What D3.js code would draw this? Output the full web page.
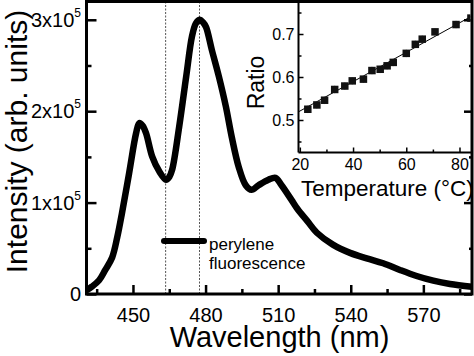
<!DOCTYPE html>
<meta charset="utf-8">
<style>
  body { margin: 0; background: #fff; }
  text { font-family: "Liberation Sans", Arial, sans-serif; fill: #000; }
</style>
<div id="chart"></div>
<script src="https://cdn.jsdelivr.net/npm/d3@7/dist/d3.min.js"></script>
<script>

// main spectrum (nm, intensity in arb. units)
var wavelength = [430.8, 433, 436, 438.5, 441.4, 443.5, 445.5, 448.4, 451.3, 452.6, 454, 455.4, 458, 460.9, 463.7, 465,
                  466.2, 469.1, 472, 474.4, 476, 477.5, 479, 480.2, 482.6, 485.5, 488.4, 490.8, 493.7, 496.6, 499,
                  501.9, 506, 508.9, 511.4, 515.5, 518, 522, 526, 532.6, 539.7, 546.6, 553.4, 560.3, 567.2, 574.1, 581, 590];
var intensity = [4000, 8000, 15000, 26000, 40000, 62000, 89000, 132000, 176000, 187000, 184000, 176000, 150000, 134000, 125000, 128000,
                 136000, 183000, 238000, 282000, 296000, 300000, 297000, 292000, 267000, 238000, 205000, 172000, 139000, 119000, 114000,
                 119000, 125000, 127000, 119000, 103000, 93000, 80000, 67000, 54000, 45000, 39000, 33600, 26300, 19700, 14600, 11000, 8000];
var markerNm = [463.5, 477.5];

var xTicks = [450, 480, 510, 540, 570];
var xMinor = [435, 465, 495, 525, 555, 585];
var yTicks = [0, 100000, 200000, 300000];
var yMinor = [50000, 150000, 250000];

// inset: ratio vs temperature
var temperature = [23.0, 26.4, 29.3, 33.1, 36.9, 39.7, 43.9, 47.1, 50.2, 52.8, 55.1, 60.0, 63.4, 66.0, 70.8, 78.7, 84.3];
var ratio = [0.525, 0.535, 0.546, 0.571, 0.579, 0.591, 0.595, 0.615, 0.618, 0.626, 0.634, 0.655, 0.676, 0.688, 0.705, 0.722, 0.737];
var ratioErr = [0.009, 0.009, 0.009, 0.009, 0.009, 0.009, 0.009, 0.009, 0.009, 0.009, 0.009, 0.009, 0.009, 0.009, 0.009, 0.009, 0.009];
var fitIntercept = 0.519, fitSlope = 0.00342; // ratio = fitIntercept + fitSlope*(T - 19.5)

var insetXTicks = [20, 40, 60, 80];
var insetXMinor = [30, 50, 70];
var insetYTicks = [0.5, 0.6, 0.7];
var insetYMinor = [0.45, 0.55, 0.65, 0.75];

var width = 474, height = 356;

var svg = d3.select('#chart').append('svg')
    .attr('width', width)
    .attr('height', height);

svg.append('rect').attr('width', width).attr('height', height).attr('fill', '#fff');

var x = d3.scaleLinear().domain([430.8, 590.1]).range([86.5, 472]);
var y = d3.scaleLinear().domain([0, 320000]).range([294, 1.5]);

svg.append('clipPath').attr('id', 'mainClip')
  .append('rect')
    .attr('x', x.range()[0]).attr('y', y.range()[1])
    .attr('width', x.range()[1] - x.range()[0])
    .attr('height', y.range()[0] - y.range()[1]);

// dotted marker lines
svg.selectAll('.marker')
    .data(markerNm)
  .enter().append('line')
    .attr('x1', function(d) { return x(d); })
    .attr('x2', function(d) { return x(d); })
    .attr('y1', y.range()[1])
    .attr('y2', y.range()[0])
    .attr('stroke', '#555')
    .attr('stroke-width', 1)
    .attr('stroke-dasharray', '2,1.5');

// spectrum
var line = d3.line()
    .x(function(d, i) { return x(wavelength[i]); })
    .y(function(d) { return y(d); })
    .curve(d3.curveCatmullRom);

svg.append('path')
    .datum(intensity)
    .attr('clip-path', 'url(#mainClip)')
    .attr('d', line)
    .attr('fill', 'none')
    .attr('stroke', '#000')
    .attr('stroke-width', 6.5)
    .attr('stroke-linejoin', 'round');

// ticks, all pointing inward
function ticks(g) {
  g.select('.domain').remove();
  g.selectAll('.tick line').attr('stroke', '#000').attr('stroke-width', 2.5);
}

svg.append('g')
    .attr('transform', 'translate(0,' + y.range()[0] + ')')
    .call(d3.axisBottom(x).tickValues(xTicks).tickSizeInner(-9).tickSizeOuter(0).tickPadding(14))
    .call(ticks)
    .selectAll('text').attr('font-size', 20).attr('font-family', '"Liberation Sans", Arial, sans-serif').attr('fill', '#000');

svg.append('g')
    .attr('transform', 'translate(0,' + y.range()[0] + ')')
    .call(d3.axisBottom(x).tickValues(xMinor).tickSizeInner(-5).tickSizeOuter(0).tickFormat(''))
    .call(ticks);

[[yTicks, 10], [yMinor, 5]].forEach(function(t) {
  svg.append('g')
      .attr('transform', 'translate(' + x.range()[0] + ',0)')
      .call(d3.axisLeft(y).tickValues(t[0]).tickSizeInner(-t[1]).tickSizeOuter(0).tickFormat(''))
      .call(ticks);
  svg.append('g')
      .attr('transform', 'translate(' + x.range()[1] + ',0)')
      .call(d3.axisRight(y).tickValues(t[0]).tickSizeInner(-t[1] + 2).tickSizeOuter(0).tickFormat(''))
      .call(ticks);
});

// y tick labels with superscript
var ylab = svg.selectAll('.ylab')
    .data(yTicks)
  .enter().append('text')
    .attr('x', 81)
    .attr('y', function(d) { return y(d) + 7; })
    .attr('text-anchor', 'end')
    .attr('font-size', 20);
ylab.each(function(d) {
  var t = d3.select(this);
  if (d === 0) { t.text('0'); return; }
  t.append('tspan').text((d / 100000) + 'x10');
  t.append('tspan').attr('font-size', 12).attr('dy', -10).text('5');
});

// frame
svg.append('rect')
    .attr('x', x.range()[0]).attr('y', y.range()[1])
    .attr('width', x.range()[1] - x.range()[0])
    .attr('height', y.range()[0] - y.range()[1])
    .attr('fill', 'none')
    .attr('stroke', '#000')
    .attr('stroke-width', 3);

// axis titles
svg.append('text')
    .attr('x', 279.5).attr('y', 347)
    .attr('text-anchor', 'middle')
    .attr('font-size', 29)
    .text('Wavelength (nm)');

svg.append('text')
    .attr('transform', 'translate(26.5,141.5) rotate(-90)')
    .attr('text-anchor', 'middle')
    .attr('font-size', 30)
    .text('Intensity (arb. units)');

// legend
svg.append('line')
    .attr('x1', 164).attr('x2', 204)
    .attr('y1', 241).attr('y2', 241)
    .attr('stroke', '#000').attr('stroke-width', 6)
    .attr('stroke-linecap', 'round');
svg.append('text').attr('x', 209).attr('y', 249.5).attr('font-size', 17).text('perylene');
svg.append('text').attr('x', 209).attr('y', 268.5).attr('font-size', 17).text('fluorescence');

// ---- inset ----
var ix = d3.scaleLinear().domain([19.5, 84.7]).range([298.5, 472]);
var iy = d3.scaleLinear().domain([0.4244, 0.7756]).range([152.5, 1.5]);

svg.append('clipPath').attr('id', 'insetClip')
  .append('rect')
    .attr('x', ix.range()[0]).attr('y', iy.range()[1])
    .attr('width', ix.range()[1] - ix.range()[0] - 1.5)
    .attr('height', iy.range()[0] - iy.range()[1]);

var inset = svg.append('g');

// fit line
inset.append('line')
    .attr('clip-path', 'url(#insetClip)')
    .attr('x1', ix(ix.domain()[0])).attr('y1', iy(fitIntercept + fitSlope * (ix.domain()[0] - 19.5)))
    .attr('x2', ix(ix.domain()[1])).attr('y2', iy(fitIntercept + fitSlope * (ix.domain()[1] - 19.5)))
    .attr('stroke', '#000').attr('stroke-width', 1);

var pts = inset.append('g').attr('clip-path', 'url(#insetClip)');

pts.selectAll('.err')
    .data(ratio)
  .enter().append('line')
    .attr('x1', function(d, i) { return ix(temperature[i]); })
    .attr('x2', function(d, i) { return ix(temperature[i]); })
    .attr('y1', function(d, i) { return iy(d - ratioErr[i]); })
    .attr('y2', function(d, i) { return iy(d + ratioErr[i]); })
    .attr('stroke', '#aaa').attr('stroke-width', 1);

pts.selectAll('.pt')
    .data(ratio)
  .enter().append('rect')
    .attr('x', function(d, i) { return ix(temperature[i]) - 3.75; })
    .attr('y', function(d) { return iy(d) - 3.75; })
    .attr('width', 7.5).attr('height', 7.5)
    .attr('fill', '#111');

// inset axes
inset.append('line')
    .attr('x1', ix.range()[0]).attr('x2', ix.range()[0])
    .attr('y1', iy.range()[1]).attr('y2', iy.range()[0])
    .attr('stroke', '#000').attr('stroke-width', 2);
inset.append('line')
    .attr('x1', ix.range()[0]).attr('x2', ix.range()[1])
    .attr('y1', iy.range()[0]).attr('y2', iy.range()[0])
    .attr('stroke', '#000').attr('stroke-width', 2);

function iticks(g) {
  g.select('.domain').remove();
  g.selectAll('.tick line').attr('stroke', '#000').attr('stroke-width', 1.5);
  g.selectAll('text').attr('font-size', 16).attr('font-family', '"Liberation Sans", Arial, sans-serif').attr('fill', '#000');
}

inset.append('g')
    .attr('transform', 'translate(0,' + iy.range()[0] + ')')
    .call(d3.axisBottom(ix).tickValues(insetXTicks).tickSizeInner(-5).tickSizeOuter(0).tickPadding(6))
    .call(iticks);
inset.append('g')
    .attr('transform', 'translate(0,' + iy.range()[0] + ')')
    .call(d3.axisBottom(ix).tickValues(insetXMinor).tickSizeInner(-3).tickSizeOuter(0).tickFormat(''))
    .call(iticks);
inset.append('g')
    .attr('transform', 'translate(' + ix.range()[0] + ',0)')
    .call(d3.axisLeft(iy).tickValues(insetYTicks).tickSizeInner(-5).tickSizeOuter(0).tickPadding(4).tickFormat(d3.format('.1f')))
    .call(iticks);
inset.append('g')
    .attr('transform', 'translate(' + ix.range()[0] + ',0)')
    .call(d3.axisLeft(iy).tickValues(insetYMinor).tickSizeInner(-3).tickSizeOuter(0).tickFormat(''))
    .call(iticks);

inset.append('text')
    .attr('transform', 'translate(264,82.5) rotate(-90)')
    .attr('text-anchor', 'middle')
    .attr('font-size', 23)
    .text('Ratio');

inset.append('text')
    .attr('x', 301).attr('y', 196)
    .attr('font-size', 22.5)
    .text('Temperature (°C)');

</script>
